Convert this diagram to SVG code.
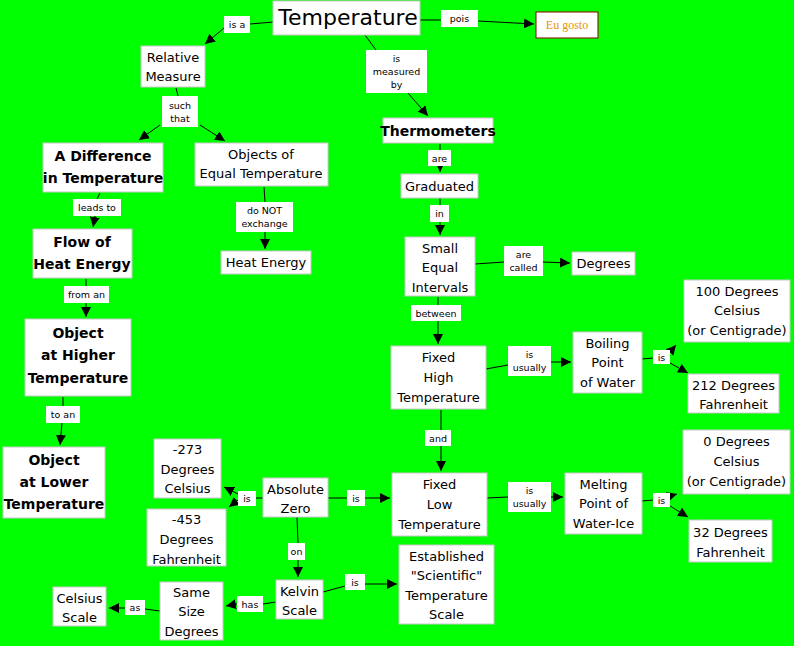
<svg xmlns="http://www.w3.org/2000/svg" width="794" height="646" viewBox="0 0 794 646">
<style>
.n rect{fill:#fff;stroke:#c8c8c8;stroke-width:1}
.n text{font-family:"DejaVu Sans",sans-serif;font-size:13px;fill:#000;text-anchor:middle}
.n .b{font-weight:bold;font-size:14px}
.l rect{fill:#fff;stroke:none}
.l text{font-family:"DejaVu Sans",sans-serif;font-size:9.5px;fill:#000;text-anchor:middle}
.c path{fill:none;stroke:#000;stroke-width:1}
</style>
<defs><marker id="a" viewBox="0 0 10 10" refX="10" refY="5" markerWidth="10" markerHeight="10" markerUnits="userSpaceOnUse" orient="auto"><path d="M0,0L10,5L0,10z" fill="#000"/></marker></defs>
<rect width="794" height="646" fill="#00ff00"/>
<g id="connectors" class="c">
<path d="M273,22L250,24"/><path d="M224,28L205,44" marker-end="url(#a)"/>
<path d="M420,20L441,20"/><path d="M478,21L534,24" marker-end="url(#a)"/>
<path d="M365,35L376,50"/><path d="M408,93L428,116" marker-end="url(#a)"/>
<path d="M176,88L178,96"/><path d="M160,125L139,140" marker-end="url(#a)"/><path d="M200,125L225,141" marker-end="url(#a)"/>
<path d="M100,193L97,199"/><path d="M95,216L93,227" marker-end="url(#a)"/>
<path d="M264,187L265,202"/><path d="M265,232L265,249" marker-end="url(#a)"/>
<path d="M86,279L86,286"/><path d="M86,303L86,317" marker-end="url(#a)"/>
<path d="M63,397L63,406"/><path d="M62,423L60,445" marker-end="url(#a)"/>
<path d="M440,144L440,150"/><path d="M440,166L440,172" marker-end="url(#a)"/>
<path d="M440,198L440,205"/><path d="M440,222L440,235" marker-end="url(#a)"/>
<path d="M475,264L504,262"/><path d="M543,262L570,263" marker-end="url(#a)"/>
<path d="M438,297L438,305"/><path d="M438,321L438,344" marker-end="url(#a)"/>
<path d="M486,369L508,365"/><path d="M551,362L571,362" marker-end="url(#a)"/>
<path d="M642,359L653,358"/><path d="M670,352L676,345" marker-end="url(#a)"/><path d="M670,363L688,373" marker-end="url(#a)"/>
<path d="M441,410L441,430"/><path d="M441,446L441,471" marker-end="url(#a)"/>
<path d="M487,498L508,497"/><path d="M551,497L563,497" marker-end="url(#a)"/>
<path d="M642,501L653,500"/><path d="M670,496L677,494" marker-end="url(#a)"/><path d="M670,506L688,517" marker-end="url(#a)"/>
<path d="M263,498L256,498"/><path d="M238,494L224,487" marker-end="url(#a)"/><path d="M238,500L229,507" marker-end="url(#a)"/>
<path d="M328,498L347,498"/><path d="M365,498L390,498" marker-end="url(#a)"/>
<path d="M297,517L298,543"/><path d="M298,560L298,577" marker-end="url(#a)"/>
<path d="M323,592L345,586"/><path d="M365,584L397,584" marker-end="url(#a)"/>
<path d="M276,602L263,604"/><path d="M237,604L226,606" marker-end="url(#a)"/>
<path d="M160,611L145,609"/><path d="M125,608L109,608" marker-end="url(#a)"/>
</g>
<g class="l">
<g><rect x="224" y="16" width="26" height="17"/><text x="237" y="28">is a</text></g>
<g><rect x="441" y="10" width="37" height="17"/><text x="459.5" y="22">pois</text></g>
<g><rect x="366" y="50" width="61" height="43"/><text x="396.5" y="62">is</text><text x="396.5" y="75">measured</text><text x="396.5" y="88">by</text></g>
<g><rect x="162" y="96" width="36" height="31"/><text x="180" y="109">such</text><text x="180" y="122">that</text></g>
<g><rect x="73" y="199" width="48" height="17"/><text x="97" y="211">leads to</text></g>
<g><rect x="236" y="202" width="57" height="30"/><text x="264.5" y="214">do NOT</text><text x="264.5" y="227">exchange</text></g>
<g><rect x="64" y="286" width="45" height="17"/><text x="86.5" y="298">from an</text></g>
<g><rect x="46" y="406" width="34" height="17"/><text x="63" y="418">to an</text></g>
<g><rect x="428" y="150" width="23" height="16"/><text x="439.5" y="162">are</text></g>
<g><rect x="430" y="205" width="19" height="17"/><text x="439.5" y="217">in</text></g>
<g><rect x="504" y="246" width="39" height="30"/><text x="523.5" y="258">are</text><text x="523.5" y="271">called</text></g>
<g><rect x="411" y="305" width="50" height="16"/><text x="436" y="317">between</text></g>
<g><rect x="508" y="346" width="43" height="30"/><text x="529.5" y="358">is</text><text x="529.5" y="371">usually</text></g>
<g><rect x="653" y="350" width="17" height="14"/><text x="661.5" y="361">is</text></g>
<g><rect x="425" y="430" width="26" height="16"/><text x="438" y="442">and</text></g>
<g><rect x="508" y="482" width="43" height="30"/><text x="529.5" y="494">is</text><text x="529.5" y="507">usually</text></g>
<g><rect x="653" y="493" width="17" height="14"/><text x="661.5" y="504">is</text></g>
<g><rect x="238" y="491" width="18" height="15"/><text x="247" y="502">is</text></g>
<g><rect x="347" y="490" width="18" height="16"/><text x="356" y="502">is</text></g>
<g><rect x="288" y="543" width="17" height="17"/><text x="296.5" y="555">on</text></g>
<g><rect x="345" y="574" width="20" height="16"/><text x="355" y="586">is</text></g>
<g><rect x="237" y="596" width="26" height="16"/><text x="250" y="608">has</text></g>
<g><rect x="125" y="600" width="20" height="15"/><text x="135" y="611">as</text></g>
</g>
<g id="temperature" class="n"><rect x="273" y="1" width="147" height="34"/><text x="348" y="25" style="font-size:22px">Temperature</text></g>
<g id="eugosto"><rect x="536" y="12" width="62" height="26" fill="#fff" stroke="#8b0000"/><text x="567" y="29" font-family="Liberation Serif,serif" font-size="12" fill="#e69500" text-anchor="middle">Eu gosto</text></g>
<g id="relative" class="n"><rect x="141" y="46" width="64" height="41"/><text x="173" y="62">Relative</text><text x="173" y="81">Measure</text></g>
<g id="difference" class="n"><rect x="43" y="143" width="120" height="49"/><text class="b" x="103" y="161">A Difference</text><text class="b" x="103" y="183">in Temperature</text></g>
<g id="equal" class="n"><rect x="195" y="143" width="133" height="43"/><text x="261" y="159">Objects of</text><text x="261" y="178">Equal Temperature</text></g>
<g id="heat" class="n"><rect x="221" y="251" width="90" height="23"/><text x="266" y="267">Heat Energy</text></g>
<g id="flow" class="n"><rect x="33" y="229" width="99" height="49"/><text class="b" x="82" y="247">Flow of</text><text class="b" x="82" y="269">Heat Energy</text></g>
<g id="higher" class="n"><rect x="25" y="319" width="106" height="77"/><text class="b" x="78" y="338">Object</text><text class="b" x="78" y="360">at Higher</text><text class="b" x="78" y="383">Temperature</text></g>
<g id="lower" class="n"><rect x="3" y="447" width="102" height="71"/><text class="b" x="54" y="465">Object</text><text class="b" x="54" y="487">at Lower</text><text class="b" x="54" y="509">Temperature</text></g>
<g id="thermometers" class="n"><rect x="383" y="118" width="110" height="25"/><text class="b" x="438" y="136">Thermometers</text></g>
<g id="graduated" class="n"><rect x="401" y="174" width="77" height="24"/><text x="439.5" y="191">Graduated</text></g>
<g id="small" class="n"><rect x="405" y="237" width="70" height="59"/><text x="440" y="253">Small</text><text x="440" y="272">Equal</text><text x="440" y="292">Intervals</text></g>
<g id="degrees" class="n"><rect x="572" y="252" width="63" height="23"/><text x="603.5" y="268">Degrees</text></g>
<g id="high" class="n"><rect x="391" y="346" width="95" height="63"/><text x="438.5" y="362">Fixed</text><text x="438.5" y="382">High</text><text x="438.5" y="402">Temperature</text></g>
<g id="boiling" class="n"><rect x="573" y="332" width="69" height="61"/><text x="607.5" y="348">Boiling</text><text x="607.5" y="367">Point</text><text x="607.5" y="387">of Water</text></g>
<g id="c100" class="n"><rect x="684" y="280" width="106" height="62"/><text x="737" y="296">100 Degrees</text><text x="737" y="315">Celsius</text><text x="737" y="335">(or Centigrade)</text></g>
<g id="f212" class="n"><rect x="688" y="374" width="91" height="39"/><text x="733.5" y="390">212 Degrees</text><text x="733.5" y="409">Fahrenheit</text></g>
<g id="low" class="n"><rect x="392" y="473" width="95" height="63"/><text x="439.5" y="489">Fixed</text><text x="439.5" y="509">Low</text><text x="439.5" y="529">Temperature</text></g>
<g id="melting" class="n"><rect x="565" y="473" width="77" height="61"/><text x="603.5" y="489">Melting</text><text x="603.5" y="508">Point of</text><text x="603.5" y="528">Water-Ice</text></g>
<g id="c0" class="n"><rect x="683" y="430" width="107" height="64"/><text x="736.5" y="446">0 Degrees</text><text x="736.5" y="466">Celsius</text><text x="736.5" y="486">(or Centigrade)</text></g>
<g id="f32" class="n"><rect x="689" y="520" width="83" height="42"/><text x="730.5" y="537">32 Degrees</text><text x="730.5" y="557">Fahrenheit</text></g>
<g id="c273" class="n"><rect x="154" y="439" width="67" height="59"/><text x="187.5" y="454">-273</text><text x="187.5" y="474">Degrees</text><text x="187.5" y="493">Celsius</text></g>
<g id="f453" class="n"><rect x="147" y="509" width="79" height="57"/><text x="186.5" y="524">-453</text><text x="186.5" y="544">Degrees</text><text x="186.5" y="564">Fahrenheit</text></g>
<g id="absolute" class="n"><rect x="263" y="478" width="65" height="39"/><text x="295.5" y="494">Absolute</text><text x="295.5" y="513">Zero</text></g>
<g id="kelvin" class="n"><rect x="276" y="580" width="47" height="39"/><text x="299.5" y="596">Kelvin</text><text x="299.5" y="615">Scale</text></g>
<g id="established" class="n"><rect x="399" y="545" width="95" height="79"/><text x="446.5" y="561">Established</text><text x="446.5" y="580">"Scientific"</text><text x="446.5" y="600">Temperature</text><text x="446.5" y="619">Scale</text></g>
<g id="samesize" class="n"><rect x="160" y="582" width="63" height="58"/><text x="191.5" y="597">Same</text><text x="191.5" y="616">Size</text><text x="191.5" y="636">Degrees</text></g>
<g id="celsiusscale" class="n"><rect x="53" y="587" width="53" height="39"/><text x="79.5" y="603">Celsius</text><text x="79.5" y="622">Scale</text></g>
</svg>
